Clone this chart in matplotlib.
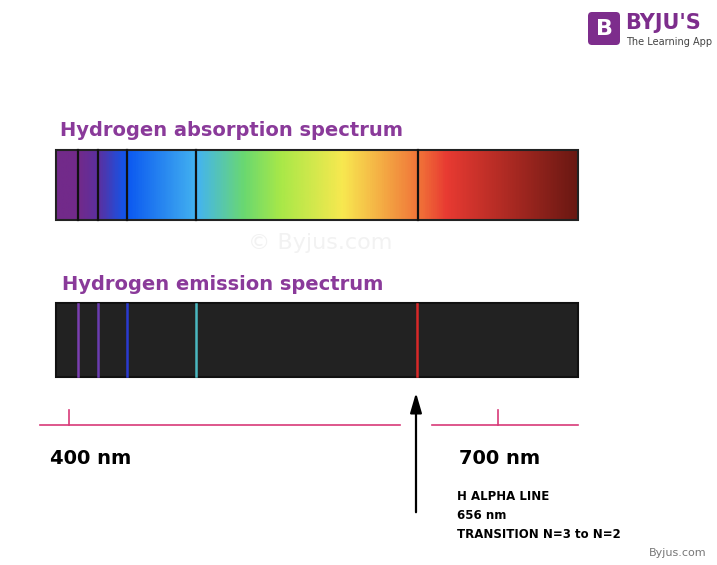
import numpy as np
import matplotlib
matplotlib.use("Agg")
import matplotlib.pyplot as plt
from matplotlib.colors import LinearSegmentedColormap
from matplotlib.patches import Rectangle, FancyBboxPatch

# spectrum layout (pixel-space positions of spectral lines)
line_x = [78, 98, 127, 196, 418]
emission_colors = ["#7b3fb0", "#6a3cb0", "#2a3ad0", "#4ab8c0", "#d82828"]
grad_stops = [0.0, 0.04, 0.08, 0.135, 0.27, 0.36, 0.43, 0.55, 0.70, 0.75, 1.0]
grad_colors = ["#722a8a", "#722a8a", "#5a30a0", "#0b58f0", "#44b4f0", "#6ad870",
               "#a8e848", "#f8e850", "#f07038", "#e83a32", "#6a1812"]
tick_x = [69, 498]
tick_label_x = [91, 500]
tick_labels = ["400 nm", "700 nm"]

fig = plt.figure(figsize=(7.17, 5.65), dpi=100)
ax = fig.add_axes([0, 0, 1, 1])
ax.set_xlim(0, 717); ax.set_ylim(565, 0); ax.axis("off")

x0, x1 = 56, 578
# absorption bar
cmap = LinearSegmentedColormap.from_list("spec", list(zip(grad_stops, grad_colors)))
grad = cmap(np.linspace(0, 1, 600))[None, :, :]
ax.imshow(grad, extent=(x0, x1, 220, 150), aspect="auto")
ax.add_patch(Rectangle((x0, 150), x1 - x0, 70, fill=False, ec="#222", lw=1.5))
for x in line_x:
    ax.plot([x, x], [150, 220], color="#111", lw=1.6)
ax.text(60, 130, "Hydrogen absorption spectrum", color="#8a3a9a", fontsize=14,
        fontweight="bold", va="center")
ax.text(320, 243, "© Byjus.com", color="#f2f2f2", fontsize=16, ha="center", va="center")

# emission bar
ax.add_patch(Rectangle((x0, 303), x1 - x0, 74, fc="#222222", ec="#111", lw=1.5))
for x, c in zip(line_x, emission_colors):
    ax.plot([x - 1 if x == 418 else x] * 2, [304, 376], color=c, lw=1.8)
ax.text(62, 284, "Hydrogen emission spectrum", color="#8a3a9a", fontsize=14,
        fontweight="bold", va="center")

# scale
pink = "#d83a78"
ax.plot([40, 400], [425, 425], color=pink, lw=1.2)
ax.plot([432, 578], [425, 425], color=pink, lw=1.2)
for x, lx, lab in zip(tick_x, tick_label_x, tick_labels):
    ax.plot([x, x], [410, 425], color=pink, lw=1.2)
    ax.text(lx, 459, lab, fontsize=14, fontweight="bold", ha="center", va="center")

ax.annotate("", xy=(416, 390), xytext=(416, 515),
            arrowprops=dict(arrowstyle="-|>,head_length=1.2,head_width=0.35", color="black", lw=1.6))
ax.text(457, 490, "H ALPHA LINE\n656 nm\nTRANSITION N=3 to N=2", fontsize=8.5,
        fontweight="bold", va="top", linespacing=1.6)

# logo
ax.add_patch(FancyBboxPatch((588, 12), 32, 33, boxstyle="round,pad=0,rounding_size=4",
                            fc="#7d2d8c", ec="none"))
ax.text(604, 29, "B", color="white", fontsize=16, fontweight="bold", ha="center", va="center")
ax.text(625, 23, "BYJU'S", color="#7d2d8c", fontsize=15, fontweight="bold", va="center")
ax.text(626, 42, "The Learning App", color="#444", fontsize=7, va="center")
ax.text(706, 553, "Byjus.com", color="#777", fontsize=8, ha="right", va="center")

fig.savefig("out.png", dpi=100, facecolor="white")
